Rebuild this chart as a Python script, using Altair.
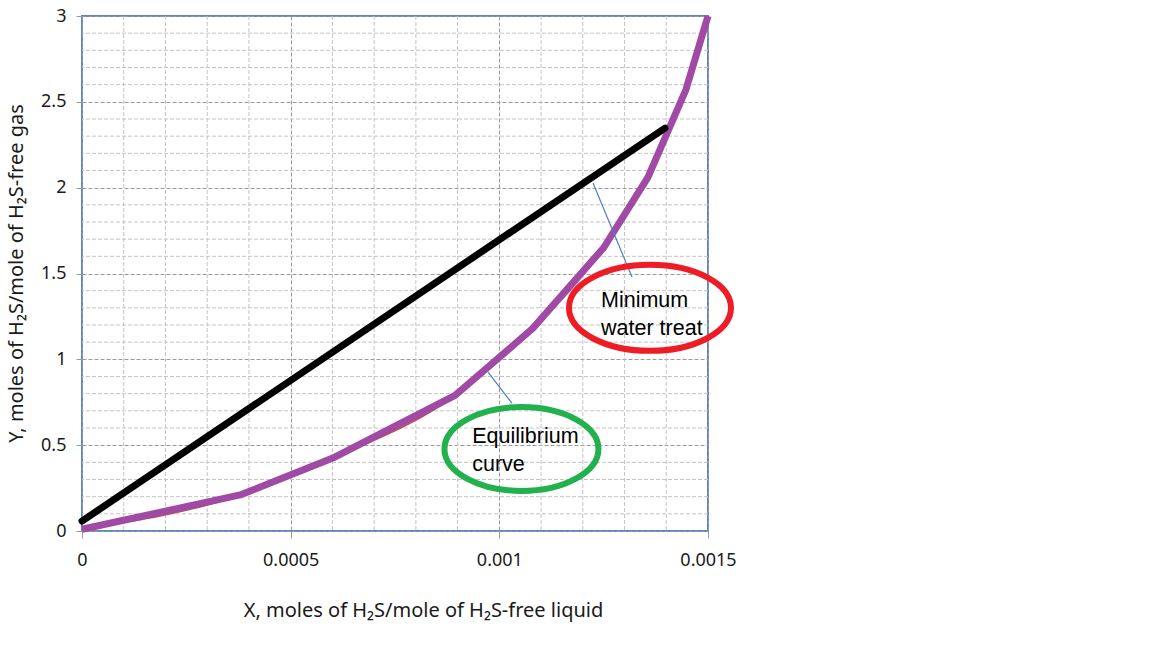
import altair as alt
import pandas as pd

# Equilibrium curve (purple) and operating line (black)
x_eq = [0.0, 0.000379, 0.000601, 0.000894, 0.00108, 0.00125, 0.001356, 0.001447, 0.0015]
y_eq = [0.01, 0.21, 0.425, 0.79, 1.18, 1.65, 2.06, 2.57, 3.0]
x_op = [0.0, 0.001397]
y_op = [0.058, 2.347]

# Axis ticks and fine grid positions
x_major = [0.0, 0.0005, 0.001, 0.0015]
y_major = [0.0, 0.5, 1.0, 1.5, 2.0, 2.5, 3.0]
x_minor = [0.0001, 0.0002, 0.0003, 0.0004, 0.0006, 0.0007, 0.0008, 0.0009,
           0.0011, 0.0012, 0.0013, 0.0014]
y_minor = [0.1, 0.2, 0.3, 0.4, 0.6, 0.7, 0.8, 0.9, 1.1, 1.2, 1.3, 1.4,
           1.6, 1.7, 1.8, 1.9, 2.1, 2.2, 2.3, 2.4, 2.6, 2.7, 2.8, 2.9]

# Callouts: label text, anchor, ellipse centre, leader line ends
notes = ["Minimum\nwater treat", "Equilibrium\ncurve"]
note_x = [0.0012437, 0.000935]
note_y = [1.305, 0.5125]
ring_x = [0.001361, 0.001053]
ring_y = [1.30, 0.478]
lead_x = [0.0012245, 0.000973]
lead_y = [2.027, 0.926]
lead_x2 = [0.001318, 0.00103]
lead_y2 = [1.479, 0.745]

eq = pd.DataFrame({"x": x_eq, "y": y_eq})
op = pd.DataFrame({"x": x_op, "y": y_op})
gx = pd.DataFrame({"x": x_minor})
gy = pd.DataFrame({"y": y_minor})
lbl = pd.DataFrame({"t": notes, "x": note_x, "y": note_y})
ring_red = pd.DataFrame({"x": ring_x[:1], "y": ring_y[:1]})
ring_green = pd.DataFrame({"x": ring_x[1:], "y": ring_y[1:]})
leads = pd.DataFrame({"x": lead_x, "y": lead_y, "x2": lead_x2, "y2": lead_y2})

FONT = "Noto Sans"
xs = alt.Scale(domain=[0, 0.0015], nice=False, zero=False)
ys = alt.Scale(domain=[0, 3], nice=False, zero=False)

x_axis = alt.Axis(
    values=x_major, labelExpr="toString(datum.value)", domain=False,
    grid=True, gridColor="#9a9a9a", gridDash=[4, 2], gridWidth=1,
    ticks=True, tickSize=7, tickColor="#999999", labelFontSize=18,
    labelColor="#1a1a1a", labelFont=FONT, labelPadding=13, labelFlush=False,
    title="X, moles of H\u2082S/mole of H\u2082S-free liquid",
    titleFont=FONT, titleFontSize=20, titleFontWeight="normal",
    titleColor="#1a1a1a", titleX=341, titleY=79, titleBaseline="middle",
    titleAnchor="start", titleAlign="center",
)
y_axis = alt.Axis(
    values=y_major, labelExpr="toString(datum.value)", domain=False,
    grid=True, gridColor="#9a9a9a", gridDash=[4, 2], gridWidth=1,
    ticks=True, tickSize=6, tickColor="#999999", labelFontSize=18,
    labelColor="#1a1a1a", labelFont=FONT, labelPadding=10, labelFlush=False,
    title="Y, moles of H\u2082S/mole of H\u2082S-free gas",
    titleFont=FONT, titleFontSize=20, titleFontWeight="normal",
    titleColor="#1a1a1a", titleX=-66, titleY=257, titleBaseline="middle",
    titleAnchor="start", titleAlign="center", titleAngle=-90,
)


def X(field="x:Q"):
    return alt.X(field, scale=xs, axis=x_axis)


def Y(field="y:Q"):
    return alt.Y(field, scale=ys, axis=y_axis)


grid_x = alt.Chart(gx).mark_rule(color="#c4c4c4", strokeDash=[4, 2], strokeWidth=1).encode(x=X())
grid_y = alt.Chart(gy).mark_rule(color="#c4c4c4", strokeDash=[4, 2], strokeWidth=1).encode(y=Y())

smooth = alt.Chart(eq).mark_line(color="#C0504D", strokeWidth=2, interpolate="monotone").encode(
    x=X(), y=Y()
)
curve = alt.Chart(eq).mark_line(color="#A04AA6", strokeWidth=7, strokeJoin="round").encode(
    x=X(), y=Y()
)
opline = alt.Chart(op).mark_line(color="#000000", strokeWidth=7, strokeCap="round").encode(
    x=X(), y=Y()
)

leaders = alt.Chart(leads).mark_rule(color="#4F81BD", strokeWidth=1.2).encode(
    x=X(), y=Y(), x2="x2:Q", y2="y2:Q",
)


def ellipse_path(b):
    k = 0.5523
    return (f"M-1,0 C-1,{-k*b:.4f} {-k:.4f},{-b:.4f} 0,{-b:.4f} "
            f"C{k:.4f},{-b:.4f} 1,{-k*b:.4f} 1,0 "
            f"C1,{k*b:.4f} {k:.4f},{b:.4f} 0,{b:.4f} "
            f"C{-k:.4f},{b:.4f} -1,{k*b:.4f} -1,0 Z")


red_ring = alt.Chart(ring_red).mark_point(
    shape=ellipse_path(0.531), size=162 ** 2, filled=False, color="#EE1C25",
    strokeWidth=6, opacity=1,
).encode(x=X(), y=Y())

green_ring = alt.Chart(ring_green).mark_point(
    shape=ellipse_path(0.545), size=154 ** 2, filled=False, color="#22B14C",
    strokeWidth=6, opacity=1,
).encode(x=X(), y=Y())

labels = alt.Chart(lbl).mark_text(
    align="left", baseline="alphabetic", font="Liberation Sans", fontSize=21.5,
    lineHeight=28, lineBreak="\n", color="#000000",
).encode(x=X(), y=Y(), text="t:N")

chart = alt.layer(
    grid_x, grid_y, smooth, curve, opline, leaders, red_ring, green_ring, labels
).properties(
    width=626, height=515,
    padding={"left": 82, "top": 16, "right": 444, "bottom": 117},
    autosize=alt.AutoSizeParams(type="none"),
    background="white",
).configure_view(
    stroke="#5B87C6", strokeWidth=2
)

chart.save("out.html", embed_options={"renderer": "svg", "actions": False})
